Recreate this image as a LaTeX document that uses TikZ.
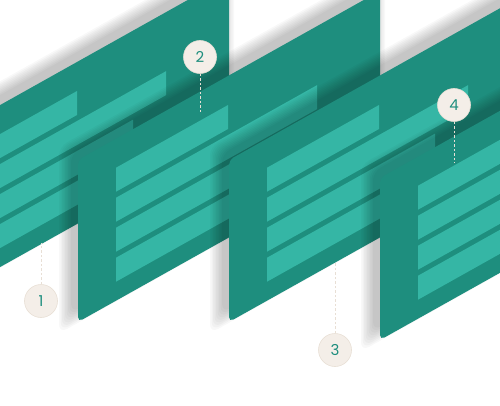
\documentclass[tikz,border=0pt]{standalone}
\usepackage{fontspec}
\newfontfamily\badgefont{Poppins}
\usetikzlibrary{positioning}
\definecolor{panelTeal}{HTML}{1E8E7E}
\definecolor{stripeTeal}{HTML}{35B6A5}
\definecolor{badgeFill}{HTML}{F4EEE8}
\definecolor{badgeBd}{HTML}{E8DFD5}
\tikzset{
  panel/.style={fill=panelTeal, rounded corners=5pt},
  stripe/.style={fill=stripeTeal},
  shade/.style={fill=black, opacity=0.026, rounded corners=9pt},
  badge/.style={
    circle, fill=badgeFill, draw=badgeBd, line width=0.6pt,
    minimum size=33pt, inner sep=0pt, text=panelTeal,
    font=\badgefont\fontsize{15}{15}\selectfont
  },
  leader/.style={draw=badgeBd, dashed, dash pattern=on 2.5pt off 2pt, line width=0.8pt}
}

\begin{document}
\begin{tikzpicture}[x=1pt,y=-1pt]
  \useasboundingbox (0,0) rectangle (500,406);
  \clip (0,0) rectangle (500,406);
  % panels, back to front
  \foreach \px/\py in {-73/146,78/160,229/160,380/178}
  {
    \begin{scope}[shift={(\px,\py)}, yslant=0.56]
      % soft shadow up and left
      \foreach \d in {0,1.5,...,12}
        \fill[shade] (-7-\d,-10-1.15*\d) rectangle (295+\d,149+1.15*\d);
      \fill[panel] (0,0) rectangle (302,162);
      % text lines
      \foreach \len [count=\i from 0] in {112,201,168,201}
        \fill[stripe] (38,29+30*\i) rectangle ++(\len,24);
    \end{scope}
  }
  % numbered badges with leaders
  \foreach \n/\bx/\by/\ty in {1/41/301/243,2/200/57/113,3/335/350/263,4/454/105/163}
  {
    \coordinate (t\n) at (\bx,\ty);
    \node[badge] (b\n) at (\bx,\by) {\n};
    \draw[leader] (b\n) -- (t\n);
  }
\end{tikzpicture}
\end{document}
